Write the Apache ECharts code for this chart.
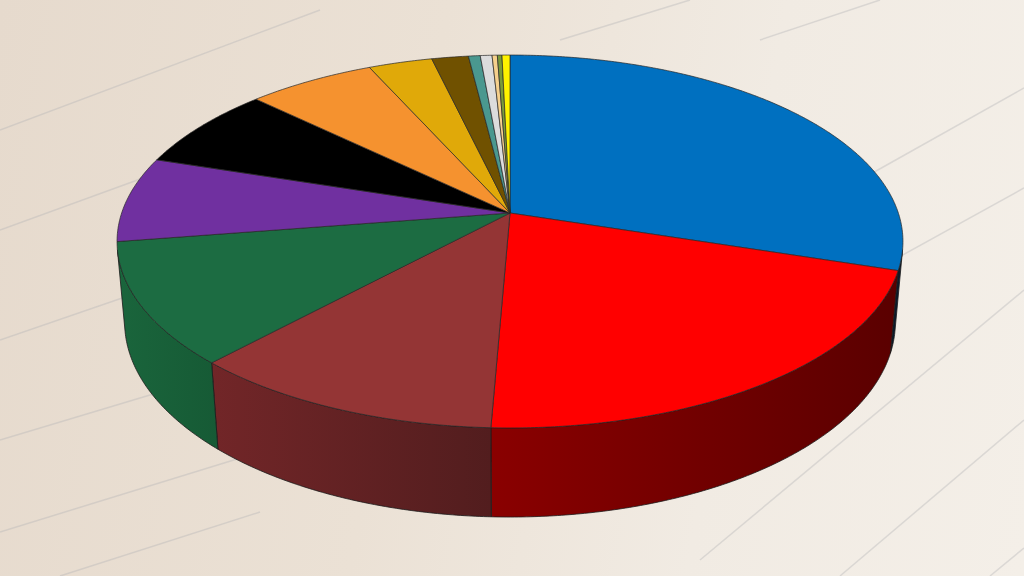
<!DOCTYPE html>
<html>
<head>
<meta charset="utf-8">
<script src="https://cdn.jsdelivr.net/npm/echarts@6/dist/echarts.min.js"></script>
<style>
html,body{margin:0;padding:0;width:1024px;height:576px;overflow:hidden;}
body{background:linear-gradient(100deg,#e6dacd 0%,#ebe1d5 40%,#f1ebe3 70%,#f4efe8 100%);}
#bg{position:absolute;left:0;top:0;width:1024px;height:576px;}
#chart{position:absolute;left:0;top:0;width:1024px;height:576px;}
</style>
</head>
<body>
<svg id="bg" width="1024" height="576" xmlns="http://www.w3.org/2000/svg">
  <g stroke="#b4b2b6" stroke-opacity="0.38" stroke-width="1.5" fill="none">
    <line x1="0" y1="130" x2="320" y2="10"/>
    <line x1="0" y1="230" x2="330" y2="110"/>
    <line x1="0" y1="340" x2="160" y2="285"/>
    <line x1="0" y1="440" x2="160" y2="392"/>
    <line x1="0" y1="532" x2="250" y2="455"/>
    <line x1="60" y1="576" x2="260" y2="512"/>
    <line x1="700" y1="560" x2="1024" y2="290"/>
    <line x1="840" y1="576" x2="1024" y2="420"/>
    <line x1="990" y1="576" x2="1024" y2="548"/>
    <line x1="860" y1="180" x2="1024" y2="88"/>
    <line x1="890" y1="262" x2="1024" y2="188"/>
    <line x1="760" y1="40" x2="880" y2="0"/>
    <line x1="560" y1="40" x2="690" y2="0"/>
  </g>
</svg>
<div id="chart"></div>
<script>
// ---- data ----
const sliceNames = ['Blue','Red','Brown','Green','Purple','Black','Orange','Gold','Dark brown','Teal','Light grey','Tan','Olive','Yellow'];
const sliceValues = [29.9, 20.8, 11.3, 10.6, 7.4, 7.2, 6.1, 3.05, 1.75, 0.56, 0.56, 0.25, 0.22, 0.38];

// ---- styles ----
const topColors  = ['#0070c0','#ff0000','#943535','#1c6c42','#7030a0','#000000','#f5922f','#e0a909','#705100','#4a988f','#dcdcdc','#f6d08c','#7a9a3a','#fff200'];
const wallLight  = ['#0b1a2c','#8a0000','#722628','#1a653c','#3e1a5a','#000000','#8a5019','#7d5e05','#3e2d00','#29554f','#7a7a7a','#8a744d','#445620','#8d8600'];
const wallDark   = ['#0b1a2c','#5a0000','#521d1e','#165a35','#2b1240','#000000','#603810','#574103','#2b1f00','#1c3b37','#555555','#60503a','#2f3c16','#625e00'];

// ---- perspective camera for the disc ----
const CX = 510, CY = 213;      // projected centre of the top face
const F = 2245, L = 5.781;     // focal length, camera distance (disc radius = 1)
const BETA = Math.asin(0.4689);// camera elevation
const H = 0.2371;              // thickness of the disc
const SB = Math.sin(BETA), CB = Math.cos(BETA);

function project(X, Y, Z) {
  const yc = Y * SB + Z * CB;
  const d = L + Y * CB - Z * SB;
  return [CX + F * X / d, CY - F * yc / d];
}

const total = sliceValues.reduce((a, b) => a + b, 0);
const starts = [];
sliceValues.reduce((acc, v, i) => { starts[i] = acc; return acc + v; }, 0);

// visible part of the outer wall (silhouette of the cylinder)
const VIS0 = Math.acos(-1 / (L * CB));
const VIS1 = 2 * Math.PI - VIS0;

function arc(a0, a1, z) {
  const pts = [];
  const n = Math.max(2, Math.ceil((a1 - a0) / (Math.PI / 360)));
  for (let k = 0; k <= n; k++) {
    const t = a0 + (a1 - a0) * k / n;
    pts.push(project(Math.sin(t), Math.cos(t), z));
  }
  return pts;
}

function renderItem(params, api) {
  const i = params.dataIndex;
  const v = api.value(0);
  const a0 = starts[i] / total * 2 * Math.PI;
  const a1 = a0 + v / total * 2 * Math.PI;
  const children = [];
  const w0 = Math.max(a0, VIS0), w1 = Math.min(a1, VIS1);
  if (w1 > w0) {
    const topArc = arc(w0, w1, 0);
    const botArc = arc(w0, w1, -H).reverse();
    children.push({
      type: 'polygon',
      z2: 1,
      shape: { points: topArc.concat(botArc) },
      style: {
        fill: new echarts.graphic.LinearGradient(0, 0, 1, 0, [
          { offset: 0, color: wallLight[i] },
          { offset: 1, color: wallDark[i] }
        ]),
        stroke: '#1a1a1a', lineWidth: 0.8
      }
    });
  }
  const pts = [project(0, 0, 0)].concat(arc(a0, a1, 0));
  children.push({
    type: 'polygon',
    z2: 10,
    shape: { points: pts },
    style: { fill: topColors[i], stroke: '#262626', lineWidth: 0.7 }
  });
  return { type: 'group', children: children };
}

const chart = echarts.init(document.getElementById('chart'), null, { renderer: 'canvas' });
chart.setOption({
  backgroundColor: 'transparent',
  animation: false,
  series: [{
    type: 'custom',
    coordinateSystem: 'none',
    renderItem: renderItem,
    data: sliceValues.map((v, i) => ({ name: sliceNames[i], value: [v] }))
  }]
});
</script>
</body>
</html>
